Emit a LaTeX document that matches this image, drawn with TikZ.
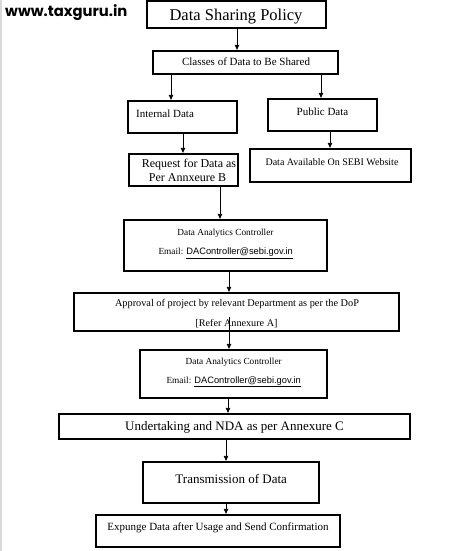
\documentclass[tikz,border=0pt]{standalone}
\usepackage{fontspec}
\setmainfont{Liberation Serif}
\newfontfamily\arialf{Liberation Sans}
\newfontfamily\wmfont{Poppins}
\usetikzlibrary{arrows.meta,calc}
\tikzset{
  box/.style={draw, line width=1.3pt, inner sep=0pt},
  arr/.style={line width=0.8pt, -{Latex[length=5.5pt,width=5pt]}},
  txt/.style={inner sep=0pt, anchor=base},
  fs/.style={font=\fontsize{#1}{#1}\selectfont},
}
\begin{document}
\begin{tikzpicture}[x=1pt,y=-1pt]
\useasboundingbox (0,0) rectangle (474,551);
\fill[white] (0,0) rectangle (474,551);
\fill[black!15] (0,0) rectangle (2,551);
% watermark
\node[txt, anchor=base west, font=\wmfont\bfseries\fontsize{14.8}{14.8}\selectfont] (wm) at (5,16.7) {www.taxguru.in};
% boxes
\node[box, minimum width=179, minimum height=27] (dsp) at (236.5,14.5) {};
\node[box, minimum width=185, minimum height=23] (cls) at (245.5,62.5) {};
\node[box, minimum width=109, minimum height=32] (int) at (182.5,117) {};
\node[box, minimum width=109, minimum height=32] (pub) at (322.5,115) {};
\node[box, minimum width=109, minimum height=32] (req) at (183.5,170) {};
\node[box, minimum width=161, minimum height=33] (avail) at (330.5,165.5) {};
\node[box, minimum width=203, minimum height=51] (dacA) at (225.5,245.5) {};
\node[box, minimum width=325, minimum height=38] (appr) at (236.5,312) {};
\node[box, minimum width=187, minimum height=48] (dacB) at (233.5,374) {};
\node[box, minimum width=351, minimum height=25] (und) at (234.5,426.5) {};
\node[box, minimum width=176, minimum height=41] (trans) at (231,482.5) {};
\node[box, minimum width=244, minimum height=32] (exp) at (218,531) {};
% texts
\node[txt, fs=16.5] (dspT) at (236,21) {Data Sharing Policy};
\node[txt, fs=11] (clsT) at (246,65) {Classes of Data to Be Shared};
\node[txt, fs=11, anchor=base west] (intT) at (136,117) {Internal Data};
\node[txt, fs=11] (pubT) at (322.5,115) {Public Data};
\node[txt, fs=12] (reqT1) at (189,167.7) {Request for Data as};
\node[txt, fs=12] (reqT2) at (187.5,181.7) {Per Annxeure B};
\node[txt, fs=10] (availT) at (332,165.7) {Data Available On SEBI Website};
\node[txt, fs=9.3] (dacAT1) at (225.5,235.7) {Data Analytics Controller};
\node[txt, fs=9.3] (dacAT2) at (225.7,254.7) {Email: {\arialf\underline{DAController@sebi.gov.in}}};
\node[txt, fs=10.3] (apprT1) at (237,306) {Approval of project by relevant Department as per the DoP};
\node[txt, fs=10.2] (apprT2) at (236.5,326) {[Refer Annexure A]};
\node[txt, fs=9.3] (dacBT1) at (233.7,364) {Data Analytics Controller};
\node[txt, fs=9.3] (dacBT2) at (233.7,383.3) {Email: {\arialf\underline{DAController@sebi.gov.in}}};
\node[txt, fs=13] (undT) at (234.5,430) {Undertaking and NDA as per Annexure C};
\node[txt, fs=13] (transT) at (231.2,483.3) {Transmission of Data};
\node[txt, fs=11] (expT) at (218,530.7) {Expunge Data after Usage and Send Confirmation};
% arrows
\draw[arr] (dsp.south -| 237,0) -- (cls.north -| 237,0);
\draw[arr] (cls.south -| 171,0) -- (int.north -| 171,0);
\draw[arr] (cls.south -| 321,0) -- (pub.north -| 321,0);
\draw[arr] (int.south -| 183,0) -- (req.north -| 183,0);
\draw[arr] (pub.south -| 330,0) -- (avail.north -| 330,0);
\draw[arr] (req.south -| 220,0) -- (dacA.north -| 220,0);
\draw[arr] (dacA.south -| 229,0) -- (appr.north -| 229,0);
\draw[arr] ([yshift=-5pt]appr.center -| 229,0) -- (dacB.north -| 229,0);
\draw[arr] (dacB.south -| 228,0) -- (und.north -| 228,0);
\draw[arr] (und.south -| 226,0) -- (trans.north -| 226,0);
\draw[arr] (trans.south -| 226,0) -- (exp.north -| 226,0);
\end{tikzpicture}
\end{document}
